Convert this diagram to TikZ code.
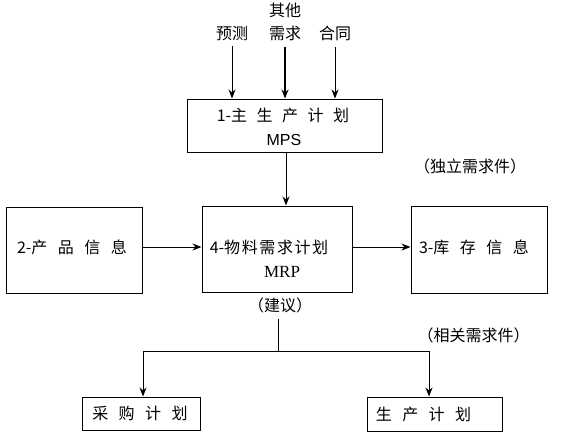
\documentclass[tikz,border=0pt]{standalone}
\usepackage{fontspec}
\setmainfont{Liberation Sans}
\newfontfamily\cjk{Noto Sans CJK SC}
\newfontfamily\mrpfont{Liberation Serif}
\usetikzlibrary{arrows.meta}
\newcommand\cgap{\hspace{10.5pt}}
\newcommand\tgap{\hspace{1.6pt}}
\begin{document}
\begin{tikzpicture}[x=1pt,y=-1pt,
  box/.style={draw,line width=1pt,inner sep=0pt},
  txt/.style={inner sep=0pt,font=\cjk\fontsize{16}{18}\selectfont},
  arr/.style={line width=1pt,-{Stealth[length=9pt,width=7pt]}},
  ln/.style={line width=1pt}]
\fill[white] (0,0) rectangle (569,440);
\useasboundingbox (0,0) rectangle (569,440);

% boxes
\node[box,minimum width=195pt,minimum height=53pt] (mps) at (284.5,125.5) {};
\node[box,minimum width=136pt,minimum height=86pt] (prod) at (74,250) {};
\node[box,minimum width=150pt,minimum height=86pt] (mrp) at (277,249) {};
\node[box,minimum width=136pt,minimum height=87pt] (inv) at (479,249.5) {};
\node[box,minimum width=118pt,minimum height=33pt] (cg) at (141,413.5) {};
\node[box,minimum width=135pt,minimum height=34pt] (sc) at (434.5,414) {};

% texts in boxes
\node[txt] (mpst1) at (283,115) {1-主\hspace{9.5pt}生\hspace{9.5pt}产\hspace{9.5pt}计\hspace{9.5pt}划};
\node[inner sep=0pt,font=\fontsize{16}{18}\selectfont] (mpst2) at (284,140) {MPS};
\node[txt] (prodt) at (72,247) {2-产\cgap 品\cgap 信\cgap 息};
\node[txt] (mrpt1) at (269,247) {4-物\tgap 料\tgap 需\tgap 求\tgap 计\tgap 划};
\node[inner sep=0pt,font=\mrpfont\fontsize{17}{19}\selectfont] (mrpt2) at (282,272) {MRP};
\node[txt] (invt) at (474,247) {3-库\cgap 存\cgap 信\cgap 息};
\node[txt] (cgt) at (140,413) {采\cgap 购\cgap 计\cgap 划};
\node[txt] (sct) at (423.5,414) {生\cgap 产\cgap 计\cgap 划};

% outside labels
\node[txt] (yc) at (232,33) {预测};
\node[txt] (qt) at (285,10) {其他};
\node[txt] (xq) at (285,33) {需求};
\node[txt] (ht) at (335,33) {合同};
\node[txt] (dl) at (470,166) {（独立需求件）};
\node[txt] (jy) at (280,305) {（建议）};
\node[txt] (xg) at (473.5,335) {（相关需求件）};

% connectors
\draw[arr] ([yshift=-6pt]yc.south) -- (yc.south |- mps.north);
\draw[arr,line width=2pt] ([yshift=-6pt]xq.south) -- (xq.south |- mps.north);
\draw[arr] ([yshift=-6pt]ht.south) -- (ht.south |- mps.north);
\draw[arr] ([xshift=1.5pt]mps.south) -- ([xshift=1.5pt]mps.south |- mrp.north);
\draw[arr] (prod.east |- prodt) -- (mrp.west |- prodt);
\draw[arr] (mrp.east |- prodt) -- (inv.west |- prodt);
\coordinate (sp) at (278,351);
\draw[ln] ([yshift=-6pt]jy.south -| sp) -- (sp);
\draw[arr] (sp) -| ([xshift=2pt]cg.north);
\draw[arr] (sp) -| ([xshift=-5.5pt]sc.north);
\end{tikzpicture}
\end{document}
